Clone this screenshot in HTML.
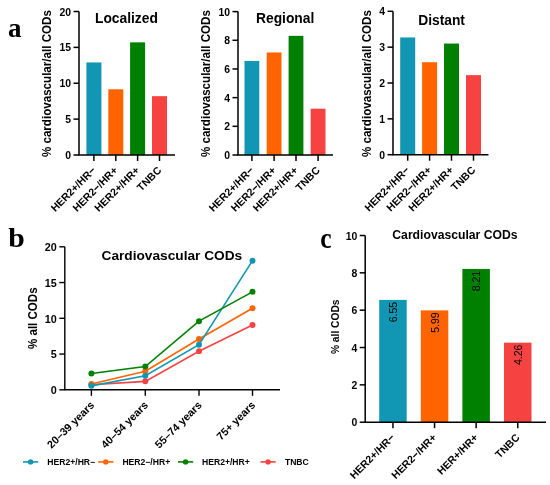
<!DOCTYPE html>
<html><head><meta charset="utf-8"><style>
html,body{margin:0;padding:0;background:#fff;width:550px;height:485px;overflow:hidden}
svg{display:block;will-change:transform}
</style></head><body>
<svg width="550" height="485" viewBox="0 0 550 485" font-family='"Liberation Sans", sans-serif' fill="#000">
<rect width="550" height="485" fill="#fff"/>
<text x="8" y="37" font-family='"Liberation Serif", serif' font-size="27" font-weight="bold">a</text>
<text transform="translate(8.3,246.8) scale(1.1,1)" font-family='"Liberation Serif", serif' font-size="27" font-weight="bold">b</text>
<text transform="translate(320.2,247.6) scale(0.88,1)" font-family='"Liberation Serif", serif' font-size="29" font-weight="bold">c</text>
<rect x="86.40" y="62.44" width="15.00" height="92.56" fill="#1197b3"/>
<rect x="108.30" y="89.28" width="15.00" height="65.72" fill="#ff6400"/>
<rect x="130.10" y="42.35" width="15.00" height="112.65" fill="#008000"/>
<rect x="152.00" y="96.17" width="15.00" height="58.83" fill="#f74242"/>
<path d="M79.00 11.50 V155.00 H175.00" fill="none" stroke="#000" stroke-width="1.5"/>
<path d="M73.50 155.00 H79.00" stroke="#000" stroke-width="1.5"/>
<text x="71.00" y="159.10" text-anchor="end" font-size="10.4" font-weight="bold">0</text>
<path d="M73.50 119.12 H79.00" stroke="#000" stroke-width="1.5"/>
<text x="71.00" y="123.22" text-anchor="end" font-size="10.4" font-weight="bold">5</text>
<path d="M73.50 83.25 H79.00" stroke="#000" stroke-width="1.5"/>
<text x="71.00" y="87.35" text-anchor="end" font-size="10.4" font-weight="bold">10</text>
<path d="M73.50 47.38 H79.00" stroke="#000" stroke-width="1.5"/>
<text x="71.00" y="51.48" text-anchor="end" font-size="10.4" font-weight="bold">15</text>
<path d="M73.50 11.50 H79.00" stroke="#000" stroke-width="1.5"/>
<text x="71.00" y="15.60" text-anchor="end" font-size="10.4" font-weight="bold">20</text>
<path d="M93.90 155.00 V161.00" stroke="#000" stroke-width="1.5"/>
<text transform="translate(96.40,171.00) rotate(-45)" text-anchor="end" font-size="10.5" font-weight="bold">HER2+/HR−</text>
<path d="M115.80 155.00 V161.00" stroke="#000" stroke-width="1.5"/>
<text transform="translate(118.30,171.00) rotate(-45)" text-anchor="end" font-size="10.5" font-weight="bold">HER2−/HR+</text>
<path d="M137.60 155.00 V161.00" stroke="#000" stroke-width="1.5"/>
<text transform="translate(140.10,171.00) rotate(-45)" text-anchor="end" font-size="10.5" font-weight="bold">HER2+/HR+</text>
<path d="M159.50 155.00 V161.00" stroke="#000" stroke-width="1.5"/>
<text transform="translate(162.00,171.00) rotate(-45)" text-anchor="end" font-size="10.5" font-weight="bold">TNBC</text>
<text x="95" y="22.5" font-size="13.8" font-weight="bold">Localized</text>
<text transform="translate(50.7,83.6) rotate(-90)" text-anchor="middle" font-size="12.6" font-weight="bold" textLength="147" lengthAdjust="spacingAndGlyphs">% cardiovascular/all CODs</text>
<rect x="244.50" y="60.93" width="14.80" height="94.07" fill="#1197b3"/>
<rect x="266.70" y="52.47" width="14.80" height="102.53" fill="#ff6400"/>
<rect x="288.60" y="35.83" width="14.80" height="119.17" fill="#008000"/>
<rect x="310.70" y="108.68" width="14.80" height="46.32" fill="#f74242"/>
<path d="M238.00 11.60 V155.00 H333.00" fill="none" stroke="#000" stroke-width="1.5"/>
<path d="M232.50 155.00 H238.00" stroke="#000" stroke-width="1.5"/>
<text x="230.00" y="159.10" text-anchor="end" font-size="10.4" font-weight="bold">0</text>
<path d="M232.50 126.32 H238.00" stroke="#000" stroke-width="1.5"/>
<text x="230.00" y="130.42" text-anchor="end" font-size="10.4" font-weight="bold">2</text>
<path d="M232.50 97.64 H238.00" stroke="#000" stroke-width="1.5"/>
<text x="230.00" y="101.74" text-anchor="end" font-size="10.4" font-weight="bold">4</text>
<path d="M232.50 68.96 H238.00" stroke="#000" stroke-width="1.5"/>
<text x="230.00" y="73.06" text-anchor="end" font-size="10.4" font-weight="bold">6</text>
<path d="M232.50 40.28 H238.00" stroke="#000" stroke-width="1.5"/>
<text x="230.00" y="44.38" text-anchor="end" font-size="10.4" font-weight="bold">8</text>
<path d="M232.50 11.60 H238.00" stroke="#000" stroke-width="1.5"/>
<text x="230.00" y="15.70" text-anchor="end" font-size="10.4" font-weight="bold">10</text>
<path d="M251.90 155.00 V161.00" stroke="#000" stroke-width="1.5"/>
<text transform="translate(254.40,171.00) rotate(-45)" text-anchor="end" font-size="10.5" font-weight="bold">HER2+/HR−</text>
<path d="M274.10 155.00 V161.00" stroke="#000" stroke-width="1.5"/>
<text transform="translate(276.60,171.00) rotate(-45)" text-anchor="end" font-size="10.5" font-weight="bold">HER2−/HR+</text>
<path d="M296.00 155.00 V161.00" stroke="#000" stroke-width="1.5"/>
<text transform="translate(298.50,171.00) rotate(-45)" text-anchor="end" font-size="10.5" font-weight="bold">HER2+/HR+</text>
<path d="M318.10 155.00 V161.00" stroke="#000" stroke-width="1.5"/>
<text transform="translate(320.60,171.00) rotate(-45)" text-anchor="end" font-size="10.5" font-weight="bold">TNBC</text>
<text x="256" y="23.1" font-size="13.8" font-weight="bold">Regional</text>
<text transform="translate(210.1,83.6) rotate(-90)" text-anchor="middle" font-size="12.6" font-weight="bold" textLength="147" lengthAdjust="spacingAndGlyphs">% cardiovascular/all CODs</text>
<rect x="400.20" y="37.47" width="15.00" height="117.23" fill="#1197b3"/>
<rect x="422.10" y="62.21" width="15.00" height="92.49" fill="#ff6400"/>
<rect x="444.00" y="43.56" width="15.00" height="111.13" fill="#008000"/>
<rect x="466.00" y="75.11" width="15.00" height="79.59" fill="#f74242"/>
<path d="M393.00 11.30 V154.70 H488.50" fill="none" stroke="#000" stroke-width="1.5"/>
<path d="M387.50 154.70 H393.00" stroke="#000" stroke-width="1.5"/>
<text x="385.00" y="158.80" text-anchor="end" font-size="10.4" font-weight="bold">0</text>
<path d="M387.50 118.85 H393.00" stroke="#000" stroke-width="1.5"/>
<text x="385.00" y="122.95" text-anchor="end" font-size="10.4" font-weight="bold">1</text>
<path d="M387.50 83.00 H393.00" stroke="#000" stroke-width="1.5"/>
<text x="385.00" y="87.10" text-anchor="end" font-size="10.4" font-weight="bold">2</text>
<path d="M387.50 47.15 H393.00" stroke="#000" stroke-width="1.5"/>
<text x="385.00" y="51.25" text-anchor="end" font-size="10.4" font-weight="bold">3</text>
<path d="M387.50 11.30 H393.00" stroke="#000" stroke-width="1.5"/>
<text x="385.00" y="15.40" text-anchor="end" font-size="10.4" font-weight="bold">4</text>
<path d="M407.70 154.70 V160.70" stroke="#000" stroke-width="1.5"/>
<text transform="translate(410.20,170.70) rotate(-45)" text-anchor="end" font-size="10.5" font-weight="bold">HER2+/HR−</text>
<path d="M429.60 154.70 V160.70" stroke="#000" stroke-width="1.5"/>
<text transform="translate(432.10,170.70) rotate(-45)" text-anchor="end" font-size="10.5" font-weight="bold">HER2−/HR+</text>
<path d="M451.50 154.70 V160.70" stroke="#000" stroke-width="1.5"/>
<text transform="translate(454.00,170.70) rotate(-45)" text-anchor="end" font-size="10.5" font-weight="bold">HER2+/HR+</text>
<path d="M473.50 154.70 V160.70" stroke="#000" stroke-width="1.5"/>
<text transform="translate(476.00,170.70) rotate(-45)" text-anchor="end" font-size="10.5" font-weight="bold">TNBC</text>
<text x="418.2" y="24.5" font-size="13.8" font-weight="bold">Distant</text>
<text transform="translate(371.2,83.6) rotate(-90)" text-anchor="middle" font-size="12.6" font-weight="bold" textLength="147" lengthAdjust="spacingAndGlyphs">% cardiovascular/all CODs</text>
<path d="M64.8 246.8 V389.8 H280" fill="none" stroke="#000" stroke-width="1.4"/>
<path d="M59.30 389.80 H64.80" stroke="#000" stroke-width="1.4"/>
<text x="56.80" y="394.00" text-anchor="end" font-size="10.8" font-weight="bold">0</text>
<path d="M59.30 354.05 H64.80" stroke="#000" stroke-width="1.4"/>
<text x="56.80" y="358.25" text-anchor="end" font-size="10.8" font-weight="bold">5</text>
<path d="M59.30 318.30 H64.80" stroke="#000" stroke-width="1.4"/>
<text x="56.80" y="322.50" text-anchor="end" font-size="10.8" font-weight="bold">10</text>
<path d="M59.30 282.55 H64.80" stroke="#000" stroke-width="1.4"/>
<text x="56.80" y="286.75" text-anchor="end" font-size="10.8" font-weight="bold">15</text>
<path d="M59.30 246.80 H64.80" stroke="#000" stroke-width="1.4"/>
<text x="56.80" y="251.00" text-anchor="end" font-size="10.8" font-weight="bold">20</text>
<path d="M91.4 389.8 V395.8" stroke="#000" stroke-width="1.4"/>
<text transform="translate(94.90,405.80) rotate(-45)" text-anchor="end" font-size="10.8" font-weight="bold">20–39 years</text>
<path d="M145.3 389.8 V395.8" stroke="#000" stroke-width="1.4"/>
<text transform="translate(148.80,405.80) rotate(-45)" text-anchor="end" font-size="10.8" font-weight="bold">40–54 years</text>
<path d="M199.0 389.8 V395.8" stroke="#000" stroke-width="1.4"/>
<text transform="translate(202.50,405.80) rotate(-45)" text-anchor="end" font-size="10.8" font-weight="bold">55–74 years</text>
<path d="M252.5 389.8 V395.8" stroke="#000" stroke-width="1.4"/>
<text transform="translate(256.00,405.80) rotate(-45)" text-anchor="end" font-size="10.8" font-weight="bold">75+ years</text>
<polyline points="91.40,384.80 145.30,381.36 199.00,351.19 252.50,325.02" fill="none" stroke="#f74242" stroke-width="1.6"/>
<circle cx="91.4" cy="384.80" r="3" fill="#f74242"/>
<circle cx="145.3" cy="381.36" r="3" fill="#f74242"/>
<circle cx="199.0" cy="351.19" r="3" fill="#f74242"/>
<circle cx="252.5" cy="325.02" r="3" fill="#f74242"/>
<polyline points="91.40,384.08 145.30,371.21 199.00,339.04 252.50,308.29" fill="none" stroke="#ff6400" stroke-width="1.6"/>
<circle cx="91.4" cy="384.08" r="3" fill="#ff6400"/>
<circle cx="145.3" cy="371.21" r="3" fill="#ff6400"/>
<circle cx="199.0" cy="339.04" r="3" fill="#ff6400"/>
<circle cx="252.5" cy="308.29" r="3" fill="#ff6400"/>
<polyline points="91.40,385.87 145.30,375.71 199.00,344.75 252.50,260.67" fill="none" stroke="#1197b3" stroke-width="1.6"/>
<circle cx="91.4" cy="385.87" r="3" fill="#1197b3"/>
<circle cx="145.3" cy="375.71" r="3" fill="#1197b3"/>
<circle cx="199.0" cy="344.75" r="3" fill="#1197b3"/>
<circle cx="252.5" cy="260.67" r="3" fill="#1197b3"/>
<polyline points="91.40,373.43 145.30,366.49 199.00,321.16 252.50,291.85" fill="none" stroke="#008000" stroke-width="1.6"/>
<circle cx="91.4" cy="373.43" r="3" fill="#008000"/>
<circle cx="145.3" cy="366.49" r="3" fill="#008000"/>
<circle cx="199.0" cy="321.16" r="3" fill="#008000"/>
<circle cx="252.5" cy="291.85" r="3" fill="#008000"/>
<text x="101.5" y="260.2" font-size="13.7" font-weight="bold">Cardiovascular CODs</text>
<text transform="translate(37.3,318.2) rotate(-90)" text-anchor="middle" font-size="12.6" font-weight="bold" textLength="61.5" lengthAdjust="spacingAndGlyphs">% all CODs</text>
<path d="M23 461.9 H38.2" stroke="#1197b3" stroke-width="1.6"/>
<circle cx="30.6" cy="461.9" r="2.7" fill="#1197b3"/>
<text x="47.3" y="465.3" font-size="8.6" font-weight="bold">HER2+/HR−</text>
<path d="M98.2 461.9 H113.4" stroke="#ff6400" stroke-width="1.6"/>
<circle cx="105.8" cy="461.9" r="2.7" fill="#ff6400"/>
<text x="122.4" y="465.3" font-size="8.6" font-weight="bold">HER2−/HR+</text>
<path d="M178 461.9 H193.2" stroke="#008000" stroke-width="1.6"/>
<circle cx="185.6" cy="461.9" r="2.7" fill="#008000"/>
<text x="202" y="465.3" font-size="8.6" font-weight="bold">HER2+/HR+</text>
<path d="M260.5 461.9 H275.7" stroke="#f74242" stroke-width="1.6"/>
<circle cx="268.1" cy="461.9" r="2.7" fill="#f74242"/>
<text x="284.9" y="465.3" font-size="8.6" font-weight="bold">TNBC</text>
<rect x="379.20" y="299.91" width="27.50" height="122.29" fill="#1197b3"/>
<text transform="translate(396.95,301.91) rotate(-90)" text-anchor="end" font-size="10.5" fill="#000">6.55</text>
<rect x="420.80" y="310.37" width="27.50" height="111.83" fill="#ff6400"/>
<text transform="translate(438.55,312.37) rotate(-90)" text-anchor="end" font-size="10.5" fill="#000">5.99</text>
<rect x="462.40" y="268.92" width="27.50" height="153.28" fill="#008000"/>
<text transform="translate(480.15,270.92) rotate(-90)" text-anchor="end" font-size="10.5" fill="#000">8.21</text>
<rect x="504.00" y="342.67" width="27.50" height="79.53" fill="#f74242"/>
<text transform="translate(521.75,344.67) rotate(-90)" text-anchor="end" font-size="10.5" fill="#000">4.26</text>
<path d="M365.20 235.50 V422.20 H546.00" fill="none" stroke="#000" stroke-width="1.5"/>
<path d="M359.70 422.20 H365.20" stroke="#000" stroke-width="1.5"/>
<text x="357.20" y="426.30" text-anchor="end" font-size="10.4" font-weight="bold">0</text>
<path d="M359.70 384.86 H365.20" stroke="#000" stroke-width="1.5"/>
<text x="357.20" y="388.96" text-anchor="end" font-size="10.4" font-weight="bold">2</text>
<path d="M359.70 347.52 H365.20" stroke="#000" stroke-width="1.5"/>
<text x="357.20" y="351.62" text-anchor="end" font-size="10.4" font-weight="bold">4</text>
<path d="M359.70 310.18 H365.20" stroke="#000" stroke-width="1.5"/>
<text x="357.20" y="314.28" text-anchor="end" font-size="10.4" font-weight="bold">6</text>
<path d="M359.70 272.84 H365.20" stroke="#000" stroke-width="1.5"/>
<text x="357.20" y="276.94" text-anchor="end" font-size="10.4" font-weight="bold">8</text>
<path d="M359.70 235.50 H365.20" stroke="#000" stroke-width="1.5"/>
<text x="357.20" y="239.60" text-anchor="end" font-size="10.4" font-weight="bold">10</text>
<path d="M392.95 422.20 V428.20" stroke="#000" stroke-width="1.5"/>
<text transform="translate(395.45,438.20) rotate(-45)" text-anchor="end" font-size="10.5" font-weight="bold">HER2+/HR−</text>
<path d="M434.55 422.20 V428.20" stroke="#000" stroke-width="1.5"/>
<text transform="translate(437.05,438.20) rotate(-45)" text-anchor="end" font-size="10.5" font-weight="bold">HER2−/HR+</text>
<path d="M476.15 422.20 V428.20" stroke="#000" stroke-width="1.5"/>
<text transform="translate(478.65,438.20) rotate(-45)" text-anchor="end" font-size="10.5" font-weight="bold">HER+/HR+</text>
<path d="M517.75 422.20 V428.20" stroke="#000" stroke-width="1.5"/>
<text transform="translate(520.25,438.20) rotate(-45)" text-anchor="end" font-size="10.5" font-weight="bold">TNBC</text>
<text x="392.3" y="238.6" font-size="12.2" font-weight="bold">Cardiovascular CODs</text>
<text transform="translate(339.2,326.8) rotate(-90)" text-anchor="middle" font-size="11.4" font-weight="bold" textLength="54.5" lengthAdjust="spacingAndGlyphs">% all CODs</text>
</svg>
</body></html>
